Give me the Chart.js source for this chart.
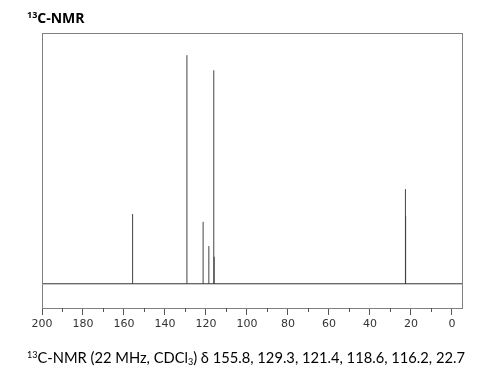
<!DOCTYPE html>
<html>
<head>
<meta charset="utf-8">
<script src="https://cdn.jsdelivr.net/npm/chart.js@4.4.0/dist/chart.umd.min.js"></script>
<style>
    body { margin: 0; background: #ffffff; }
    #wrap { position: relative; width: 494px; height: 388px; }
    #js--title { position: absolute; left: 27px; top: 8px; font-family: "Open Sans", sans-serif; font-weight: bold; font-size: 14px; color: #000; }
    #js--caption { position: absolute; left: 27px; top: 348px; font-family: Lato, sans-serif; font-size: 14.7px; color: #000; white-space: nowrap; }
    sup { font-size: 9px; vertical-align: 5px; }
    sub { font-size: 9px; vertical-align: -2px; }
    canvas { position: absolute; left: 0; top: 0; }
</style>
</head>
<body>
<div id="wrap">
    <canvas id="js--chart" width="494" height="388"></canvas>
    <div id="js--title"><sup>13</sup>C-NMR</div>
    <div id="js--caption"><sup>13</sup>C-NMR (22 MHz, CDCl<sub>3</sub>) δ 155.8, 129.3, 121.4, 118.6, 116.2, 22.7</div>
</div>
<script>
// peaks (ppm, relative height)
const shifts = [155.8, 129.3, 121.4, 118.6, 116.2, 116.0, 22.7, 22.6];
const heights = [30.5, 100, 27.1, 16.5, 93.4, 11.8, 41.4, 29.6];

// axis
const xTicks = [200, 180, 160, 140, 120, 100, 80, 60, 40, 20, 0];
const xMinorTicks = [190, 170, 150, 130, 110, 90, 70, 50, 30, 10];
const xLeft = 200;
const xRight = -4.9;

let baseline = [{ x: xLeft, y: 0 }, { x: xRight, y: 0 }];

let spikes = [];
for (let i = 0; i < shifts.length; i++) {
    spikes.push({ x: shifts[i], y: 0 });
    spikes.push({ x: shifts[i], y: heights[i] });
    spikes.push({ x: shifts[i], y: null });
}

const boxPlugin = {
    id: 'box',
    afterDraw: function (chart) {
        const ctx = chart.ctx;
        const area = chart.chartArea;
        const xScale = chart.scales.x;
        ctx.save();
        ctx.strokeStyle = '#808080';
        ctx.lineWidth = 1;
        ctx.strokeRect(Math.round(area.left) + 0.5, Math.round(area.top) + 0.5,
            Math.round(area.right - area.left), Math.round(area.bottom - area.top));
        ctx.strokeStyle = '#555';
        ctx.beginPath();
        xMinorTicks.forEach(function (v) {
            const px = Math.round(xScale.getPixelForValue(v)) + 0.5;
            ctx.moveTo(px, area.bottom);
            ctx.lineTo(px, area.bottom + 4);
        });
        ctx.stroke();
        ctx.restore();
    }
};

const config = {
    type: 'scatter',
    data: {
        datasets: [{
            label: 'baseline',
            data: baseline,
            showLine: true,
            borderColor: '#333',
            borderWidth: 1,
            pointRadius: 0
        }, {
            label: 'peaks',
            data: spikes,
            showLine: true,
            spanGaps: false,
            borderColor: '#444',
            borderWidth: 1,
            pointRadius: 0
        }]
    },
    options: {
        responsive: false,
        animation: false,
        layout: { padding: { left: 42, right: 32, top: 33, bottom: 50 } },
        plugins: {
            legend: { display: false },
            tooltip: { enabled: false }
        },
        scales: {
            x: {
                type: 'linear',
                min: xRight,
                max: xLeft,
                reverse: true,
                afterBuildTicks: function (scale) {
                    scale.ticks = xTicks.map(function (v) { return { value: v }; });
                },
                afterFit: function (scale) {
                    scale.height = 30;
                },
                grid: {
                    drawOnChartArea: false,
                    tickLength: 7,
                    tickColor: '#555'
                },
                border: { display: false },
                ticks: {
                    autoSkip: false,
                    maxRotation: 0,
                    padding: 3,
                    color: '#333',
                    font: { family: 'DejaVu Sans', size: 11 }
                }
            },
            y: {
                display: false,
                min: -10.6,
                max: 109.7
            }
        }
    },
    plugins: [boxPlugin]
};

new Chart(document.getElementById('js--chart'), config);
</script>
</body>
</html>
